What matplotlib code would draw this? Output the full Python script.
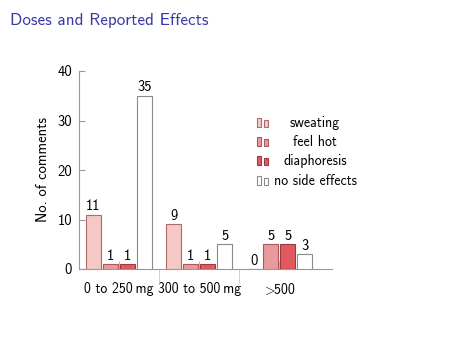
#!/usr/bin/env python
"""Grouped bar chart of reported effects per dose range."""

import matplotlib

matplotlib.use("Agg")
import matplotlib.pyplot as plt
import numpy as np
from matplotlib.patches import Rectangle

categories = ["0 to 250\u2009mg", "300 to 500\u2009mg", r"$>\!\!$500"]
series_names = ["sweating", "feel hot", "diaphoresis", "no side effects"]
sweating = [11, 9, 0]
feel_hot = [1, 1, 5]
diaphoresis = [1, 1, 5]
no_side_effects = [35, 5, 3]

fills = ["#f5c8c8", "#e89a9c", "#e05a60", "#ffffff"]
edges = ["#b06a6a", "#a85a5e", "#9c3a40", "#8a8a8a"]

plt.rcParams["font.family"] = ["cmss10", "DejaVu Sans"]
plt.rcParams["mathtext.fontset"] = "cm"
plt.rcParams["axes.unicode_minus"] = False


def main():
    fig = plt.figure(figsize=(4.74, 3.53), dpi=100)
    ax = fig.add_axes([79 / 474, 1 - 269 / 353, 253 / 474, 198 / 353])

    values = [sweating, feel_hot, diaphoresis, no_side_effects]
    x = np.arange(len(categories), dtype=float)
    step = 0.2125
    width = 0.19
    center = (len(values) - 1) / 2.0
    for idx, vals in enumerate(values):
        offset = (idx - center) * step
        bars = ax.bar(
            x + offset,
            vals,
            width=width,
            color=fills[idx],
            edgecolor=edges[idx],
            linewidth=0.8,
            zorder=3,
        )
        for bar in bars:
            h = bar.get_height()
            ax.text(
                bar.get_x() + bar.get_width() / 2.0,
                h + 0.3,
                f"{h:g}",
                ha="center",
                va="bottom",
                fontsize=10.5,
            )

    ax.set_xlim(-0.5, 2.66)
    ax.set_ylim(0, 40)
    ax.set_yticks([0, 10, 20, 30, 40])
    ax.set_xticks(x)
    ax.set_xticklabels(categories)
    ax.set_xticks([0.5, 1.5], minor=True)
    ax.tick_params(axis="y", direction="in", length=4, color="#999999",
                   labelsize=10.5, pad=5)
    ax.tick_params(axis="x", which="major", direction="in", length=6,
                   color="#bbbbbb", labelsize=10, pad=9)
    ax.tick_params(axis="x", which="minor", direction="out", length=11,
                   color="#cccccc")
    for side in ["top", "right"]:
        ax.spines[side].set_visible(False)
    for side in ["left", "bottom"]:
        ax.spines[side].set_color("#999999")
        ax.spines[side].set_linewidth(0.8)
    ax.set_ylabel("No. of comments", fontsize=10.5, labelpad=5)

    # legend drawn by hand: two small bars, centred text
    rows = [123, 142, 161, 181]
    for idx, name in enumerate(series_names):
        yc = rows[idx]
        for x0, hgt in [(257, 9), (264, 7)]:
            fig.patches.append(Rectangle(
                (x0 / 474, 1 - (yc + 4) / 353), 4 / 474, hgt / 353,
                transform=fig.transFigure, facecolor=fills[idx],
                edgecolor=edges[idx], linewidth=0.8))
        fig.text(315 / 474, 1 - yc / 353, name, ha="center", va="center",
                 fontsize=10)

    fig.text(10 / 474, 1 - 20 / 353, "Doses and Reported Effects",
             color="#3a3aa6", fontsize=12.3, ha="left", va="center")

    fig.savefig("out.png", dpi=100)
    plt.close(fig)


if __name__ == "__main__":
    main()
